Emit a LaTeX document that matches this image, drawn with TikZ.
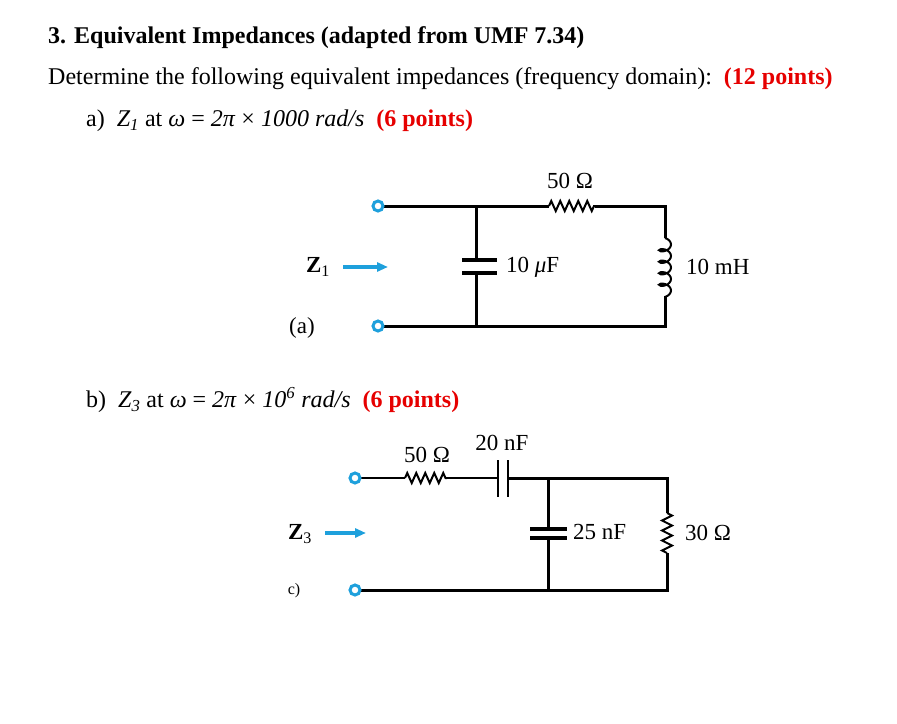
\documentclass[tikz,border=0pt]{standalone}
\usepackage{fontspec}
\setmainfont{Liberation Serif}
\usetikzlibrary{decorations.pathmorphing,arrows.meta}
\definecolor{term}{RGB}{30,160,220}
\definecolor{pts}{RGB}{230,0,0}
\begin{document}
\begin{tikzpicture}[x=1pt,y=-1pt,
 wire/.style={line width=3pt,black},
 thin/.style={line width=2pt,black},
 termc/.style={circle,draw=term,line width=3pt,fill=white,inner sep=0pt,minimum size=10pt},
 lab/.style={font=\fontsize{23}{24}\selectfont,inner sep=0pt},
 txt/.style={font=\fontsize{24}{27}\selectfont,anchor=west,inner sep=0pt},
 zarr/.style={-{Triangle[length=11pt,width=9pt]},line width=3.5pt,term},
 res/.style={decorate,decoration={zigzag,segment length=9pt,amplitude=5pt}}]
\useasboundingbox (0,0) rectangle (897,723);
\node[txt] (t1) at (48,38) {\textbf{3. Equivalent Impedances (adapted from UMF 7.34)}};
\node[txt] (t2) at (48,79) {Determine the following equivalent impedances (frequency domain):\ \ \textcolor{pts}{\textbf{(12 points)}}};
\node[txt] (t3) at (86,121) {a)\ \ \textit{Z\textsubscript{1}} at \textit{ω} = \textit{2π} × \textit{1000 rad/s}\ \ \textcolor{pts}{\textbf{(6 points)}}};
\node[txt] (t4) at (86,400) {b)\ \ \textit{Z\textsubscript{3}} at \textit{ω} = \textit{2π} × \textit{10\textsuperscript{6} rad/s}\ \ \textcolor{pts}{\textbf{(6 points)}}};
% circuit a
\coordinate (a1) at (378,206); \coordinate (a2) at (378,326);
\coordinate (ja) at (476,206); \coordinate (jb) at (476,326);
\coordinate (ra) at (549,206); \coordinate (rb) at (595,206);
\coordinate (ca) at (665,206); \coordinate (cb) at (665,326);
\draw[wire] (a1) -- (ra); \draw[wire] (rb) -- (ca) -- (665,238);
\draw[thin,res] (ra) -- (rb);
\draw[wire] (a2) -- (cb) -- (665,297);
\draw[wire] (ja) -- (476,260); \draw[wire] (jb) -- (476,273);
\draw[line width=4pt] (462,260) -- (497,260); \draw[line width=4pt] (462,273) -- (497,273);
\draw[thin,decorate,decoration={coil,aspect=0.6,segment length=11.5pt,amplitude=6pt}] (665,238) -- (665,297);
\node[termc] (ta1) at (a1) {}; \node[termc] (ta2) at (a2) {};
\node[lab] (l1) at (570,181) {50 Ω};
\node[lab,anchor=west] (l2) at (506,267) {10 \textit{μ}F};
\node[lab,anchor=west] (l3) at (686,267) {10 mH};
\node[lab] (z1) at (318,267) {\textbf{Z}\textsubscript{1}};
\coordinate (z1a) at (343,267); \coordinate (z1b) at (388,267);
\draw[zarr] (z1a) -- (z1b);
\node[lab] (pa) at (302,328) {(a)};
% circuit b
\coordinate (b1) at (355,478); \coordinate (b2) at (355,590);
\coordinate (jc) at (548,478); \coordinate (jd) at (548,590);
\coordinate (ba) at (667,478); \coordinate (bb) at (667,590);
\draw[thin] (b1) -- (405,478); \draw[thin,res] (405,478) -- (447,478);
\draw[thin] (447,478) -- (498,478);
\draw[line width=2.8pt] (498,460) -- (498,497); \draw[line width=2.8pt] (508,460) -- (508,497);
\draw[wire] (508,478) -- (ba) -- (667,513);
\draw[thin,decorate,decoration={zigzag,segment length=10pt,amplitude=5pt}] (667,513) -- (667,553);
\draw[wire] (667,553) -- (bb) -- (b2);
\draw[wire] (jc) -- (548,529); \draw[wire] (jd) -- (548,538);
\draw[line width=4pt] (530,529) -- (567,529); \draw[line width=4pt] (530,538) -- (567,538);
\node[termc] (tb1) at (b1) {}; \node[termc] (tb2) at (b2) {};
\node[lab] (m1) at (427,455) {50 Ω};
\node[lab] (m2) at (502,443) {20 nF};
\node[lab,anchor=west] (m3) at (573,532) {25 nF};
\node[lab,anchor=west] (m4) at (685,533) {30 Ω};
\node[lab] (z3) at (300,534) {\textbf{Z}\textsubscript{3}};
\coordinate (z3a) at (325,533); \coordinate (z3b) at (366,533);
\draw[zarr] (z3a) -- (z3b);
\node[lab,font=\fontsize{16}{16}\selectfont] (pc) at (294,591) {c)};
\end{tikzpicture}
\end{document}
